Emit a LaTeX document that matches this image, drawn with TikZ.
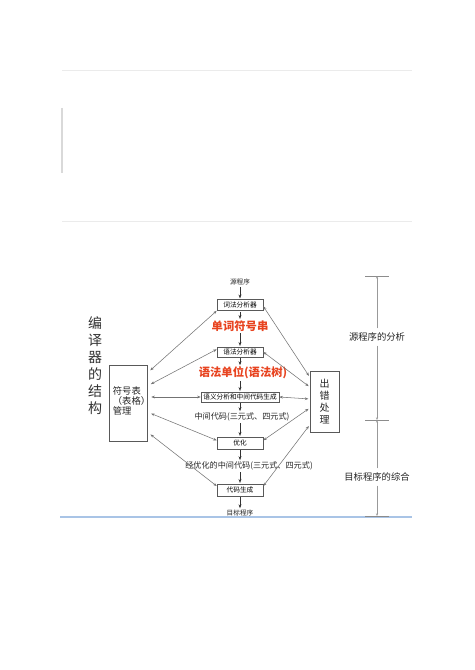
\documentclass[tikz,border=0pt]{standalone}
\usepackage{fontspec}
\newfontfamily\cjk{Noto Sans CJK SC}
\usetikzlibrary{arrows.meta}
\definecolor{redtxt}{HTML}{E8431F}
\definecolor{pageblue}{HTML}{A9C4E6}
\newcommand\myfs[2]{\fontsize{#1}{#2}\selectfont}
\begin{document}
\begin{tikzpicture}[x=0.75pt,y=-0.75pt,
  box/.style={draw=black!65, line width=0.5pt, fill=white, inner sep=0pt, font=\cjk\myfs{5pt}{6pt}},
  smallbox/.style={box, minimum width=34.5pt},
  lbl/.style={inner sep=0.5pt, font=\cjk\myfs{6.1pt}{7pt}, text=black!85},
  tinylbl/.style={inner sep=0.5pt, font=\cjk\myfs{5pt}{6pt}, text=black!85},
  redlbl/.style={inner sep=0.5pt, font=\cjk\bfseries\myfs{8.5pt}{9pt}, text=redtxt},
  flow/.style={-{Stealth[length=3pt,width=2.2pt]}, draw=black!80, line width=0.45pt, shorten <=0.8pt, shorten >=0.5pt},
  link/.style={{Stealth[length=2.6pt,width=2pt]}-{Stealth[length=2.6pt,width=2pt]}, draw=black!55, line width=0.4pt},
  scaleline/.style={-{Stealth[length=2pt,width=1.6pt]}, draw=black!40, line width=0.6pt},
  scalebar/.style={draw=black!45, line width=0.6pt},
  scalelbl/.style={inner xsep=0.5pt, inner ysep=3pt, font=\cjk\myfs{7pt}{8pt}, text=black!85},
  pageline/.style={draw=black!8, line width=0.6pt}
]
\useasboundingbox (0,0) rectangle (474,670);
\fill[white] (0,0) rectangle (474,670);

% page decorations
\draw[pageline] (62,70) -- (412,70);
\draw[draw=black!15, line width=1.5pt] (62,108) -- (62,173);
\draw[pageline] (62,221) -- (412,221);
\draw[draw=pageblue, line width=1.2pt] (60,517) -- (412,517);

% title
\node[font=\cjk\myfs{10.5pt}{12.75pt}, align=center, inner sep=0pt, text=black!80] (title) at (95,366) {编\\译\\器\\的\\结\\构};

% main flow
\node[tinylbl] (src) at (240,282) {源程序};
\node[smallbox, minimum height=8.25pt] (lex) at (240,305) {词法分析器};
\node[redlbl] (tok) at (240,326) {单词符号串};
\node[smallbox, minimum height=7.5pt] (syn) at (240,352) {语法分析器};
\node[redlbl] (tree) at (243,373) {语法单位(语法树)};
\node[box, minimum width=58.5pt, minimum height=7.5pt] (sem) at (240,397) {语义分析和中间代码生成};
\node[lbl] (mid) at (242,417) {中间代码(三元式、四元式)};
\node[smallbox, minimum height=9pt] (opt) at (240,443) {优化};
\node[lbl] (omid) at (249,466) {经优化的中间代码(三元式、四元式)};
\node[smallbox, minimum height=9pt] (gen) at (240,490) {代码生成};
\node[tinylbl] (tgt) at (240,513) {目标程序};

\draw[flow] (src) -- (lex);
\draw[flow] (lex) -- (tok);
\draw[flow] (tok) -- (syn);
\draw[flow] (syn.south) -- (syn.south |- tree.north);
\draw[flow] (sem.north |- tree.south) -- (sem.north);
\draw[flow] (sem.south) -- (sem.south |- mid.north);
\draw[flow] (opt.north |- mid.south) -- (opt.north);
\draw[flow] (opt.south) -- (opt.south |- omid.north);
\draw[flow] (gen.north |- omid.south) -- (gen.north);
\draw[flow] (gen) -- (tgt);

% side boxes
\node[box, minimum width=28.5pt, minimum height=57pt] (sym) at (128,403) {};
\node[font=\cjk\myfs{7pt}{7.5pt}, align=left, inner sep=0pt, text=black!85] (symtxt) at (131.5,401) {符号表\\（表格）\\管理};
\node[box, minimum width=21.75pt, minimum height=45.75pt, align=center, font=\cjk\myfs{7.5pt}{8.8pt}, text=black!85] (err) at (324.5,401.5) {出\\错\\处\\理};

% links to symbol table
\draw[link, shorten <=3pt] ([yshift=22.5pt]sym.east) -- (lex.south west);
\draw[link, shorten <=3pt] ([yshift=12.75pt]sym.east) -- ([yshift=2pt]syn.west);
\draw[link, shorten <=3pt] ([yshift=4.5pt]sym.east) -- (sem.west);
\draw[link, shorten <=3pt] ([yshift=-6.75pt]sym.east) -- ([yshift=2pt]opt.west);
\draw[link, shorten <=3pt] ([yshift=-21.75pt]sym.east) -- ([yshift=3pt]gen.west);

% links to error handling
\draw[link, shorten <=1pt] ([yshift=18.4pt]err.west) -- ([yshift=-1pt]lex.east);
\draw[link, shorten <=1pt] ([yshift=10.9pt]err.west) -- (syn.east);
\draw[link, shorten <=1pt] ([yshift=1.9pt]err.west) -- (sem.east);
\draw[link, shorten <=1pt] ([yshift=-4.9pt]err.west) -- ([yshift=2pt]opt.east);
\draw[link, shorten <=1pt] ([yshift=-17.6pt]err.west) -- ([yshift=3pt]gen.east);

% right scale
\coordinate (stop) at (377,276);
\coordinate (smid) at (377,420);
\coordinate (sbot) at (377,516);
\node[scalelbl] (ana) at (377,337) {源程序的分析};
\node[scalelbl] (synth) at (377,477) {目标程序的综合};
\draw[scalebar] ([xshift=-8.75pt]stop) -- ([xshift=8.75pt]stop);
\draw[scalebar] ([xshift=-8.75pt]smid) -- ([xshift=8.75pt]smid);
\draw[scalebar] ([xshift=-8.75pt]sbot) -- ([xshift=8.75pt]sbot);
\draw[scaleline] (ana) -- (stop);
\draw[scaleline] (ana) -- (smid);
\draw[scaleline] (synth) -- (smid);
\draw[scaleline] (synth) -- (sbot);
\end{tikzpicture}
\end{document}
